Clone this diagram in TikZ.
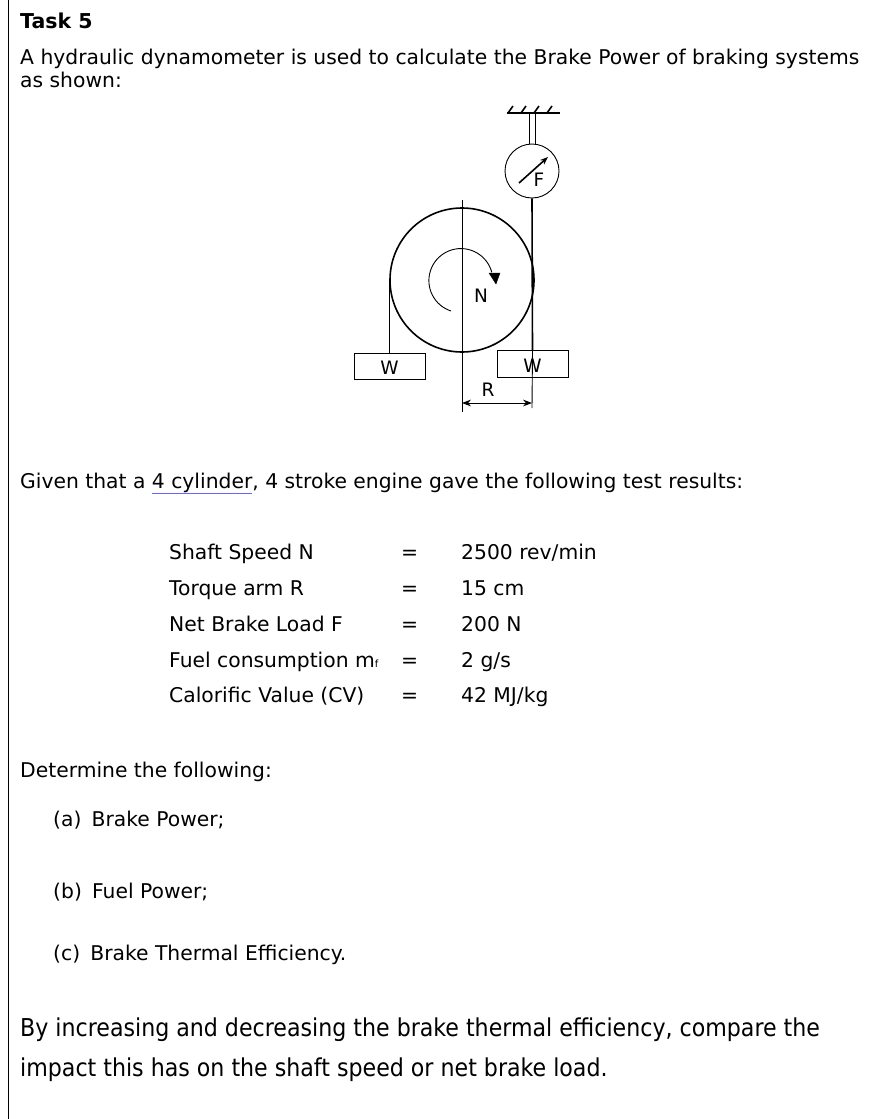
\documentclass[tikz,border=0pt]{standalone}
\usepackage{fontspec}
\setmainfont{DejaVu Sans}
\newfontfamily\condfont{DejaVu Sans Condensed}
\usetikzlibrary{arrows.meta}
\begin{document}
\begin{tikzpicture}[x=1pt,y=-1pt,
  txt/.style={anchor=base west,inner sep=0pt,font=\fontsize{20.3}{24}\selectfont},
  ctxt/.style={anchor=base west,inner sep=0pt,font=\condfont\fontsize{24.6}{27}\selectfont},
  lab/.style={font=\fontsize{18.5}{18.5}\selectfont,inner sep=0pt},
  part/.style={line width=1.6pt},
  thin/.style={line width=0.9pt}]
\useasboundingbox (0,0) rectangle (891,1119);
\draw[line width=1pt] (8,0) -- (8,1119);
\node[txt,font=\bfseries\fontsize{20.5}{24}\selectfont] (title) at (20,28) {Task 5};
\node[txt] (l1) at (20,64) {A hydraulic dynamometer is used to calculate the Brake Power of braking systems};
\node[txt] (l2) at (20,87) {as shown:};
% diagram
\node[draw,part,circle,minimum size=144pt,inner sep=0pt] (drum) at (462,280) {};
\draw[thin] (462,200) coordinate (ax1) -- (462,412) coordinate (ax2);
\node[draw,thin,minimum width=71pt,minimum height=26pt,inner sep=0pt] (wl) at (389.5,366.5) {};
\node[draw,thin,minimum width=71pt,minimum height=27pt,inner sep=0pt] (wr) at (532.5,364) {};
\node[lab] (wlt) at (389.5,368) {W};
\node[lab] (wrt) at (532.5,366) {W};
\node[draw,thin,circle,minimum size=54pt,inner sep=0pt] (gauge) at (532,171) {};
\node[lab] (ft) at (539,180) {F};
\draw[part,-{Stealth[length=8pt]}] (519,183) -- (548,157);
\draw[part] (389.5,282) -- (wl.north);
\draw[part] (gauge.south) -- (wr.north);
\draw[thin] (wr.north) -- (532,408) coordinate (rt);
\draw[thin] (529,144) -- (529,113) (535,144) -- (535,113);
\draw[part] (507,113) -- (560,113);
\foreach \x in {513,526,539,552} \draw[part] (\x-5,113) -- (\x,106);
\draw[thin] (451,311) arc[start angle=108,end angle=345,radius=32] coordinate (arr);
\draw[fill=black] (489,273) -- (500,273) -- (496,284) -- cycle;
\node[lab] (nt) at (481,296) {N};
\draw[thin,{Stealth[length=9pt]}-{Stealth[length=9pt]}] (462,403) -- (532,403);
\node[lab] (rtx) at (488,390) {R};
% text
\node[txt] (given) at (20,488) {Given that a \textcolor{blue!60!white}{\underline{\textcolor{black}{4 cylinder}}}, 4 stroke engine gave the following test results:};
\foreach \y/\a/\b [count=\i] in {559/{Shaft Speed N}/{2500 rev/min},595/{Torque arm R}/{15 cm},631/{Net Brake Load F}/{200 N},667/{Fuel consumption m{\fontsize{10}{10}\selectfont f}}/{2 g/s},702/{Calorific Value (CV)}/{42 MJ/kg}}{
  \node[txt] (ra\i) at (169,\y) {\a};
  \node[txt] (re\i) at (401,\y) {=};
  \node[txt] (rv\i) at (461,\y) {\b};
}
\node[txt] (det) at (20,777) {Determine the following:};
\node[txt] (qa) at (53,826) {(a)\enspace Brake Power;};
\node[txt] (qb) at (53,898) {(b)\enspace Fuel Power;};
\node[txt] (qc) at (53,960) {(c)\enspace Brake Thermal Efficiency.};
\node[ctxt] (p1) at (20,1036) {By increasing and decreasing the brake thermal efficiency, compare the};
\node[ctxt] (p2) at (20,1076) {impact this has on the shaft speed or net brake load.};
\end{tikzpicture}
\end{document}
